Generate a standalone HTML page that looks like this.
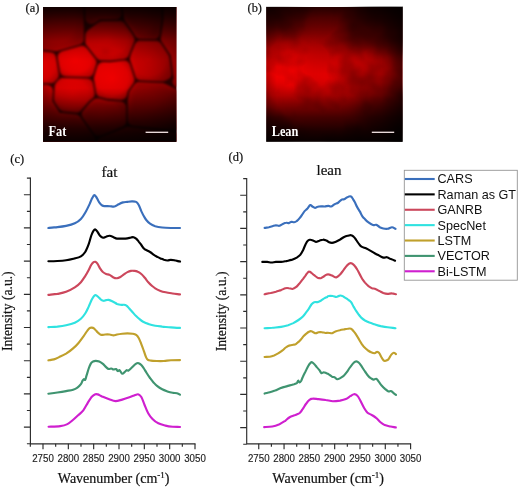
<!DOCTYPE html>
<html lang="en"><head><meta charset="utf-8"><title>CARS spectra: fat vs lean</title>
<style>
html,body{margin:0;padding:0;background:#fff;}
body{width:520px;height:488px;overflow:hidden;}
svg{display:block;}
.serif{font-family:"Liberation Serif","Times New Roman",serif;fill:#111;stroke:#111;stroke-width:0.2px;}
.sans{font-family:"Liberation Sans",Arial,sans-serif;fill:#111;}
.tick{font-family:"Liberation Sans",Arial,sans-serif;font-size:10.4px;fill:#222;stroke:#222;stroke-width:0.15px;}
.curve{fill:none;stroke-width:2.15;stroke-linejoin:round;stroke-linecap:round;}
</style></head><body>
<svg width="520" height="488" viewBox="0 0 520 488">
<rect width="520" height="488" fill="#fff"/>
<!--PHOTOS-->

<defs>
  <clipPath id="clipA"><rect x="43.1" y="7" width="133.2" height="134.85"/></clipPath>
  <clipPath id="clipB"><rect x="266.25" y="6.9" width="136.25" height="134.95"/></clipPath>
  <filter id="blurCell" x="-20%" y="-20%" width="140%" height="140%"><feGaussianBlur stdDeviation="0.9"/></filter>
  <filter id="blurBig" x="-50%" y="-50%" width="200%" height="200%"><feGaussianBlur stdDeviation="7"/></filter>
  <filter id="blurMed" x="-50%" y="-50%" width="200%" height="200%"><feGaussianBlur stdDeviation="3"/></filter>
  <radialGradient id="vigA" gradientUnits="userSpaceOnUse" cx="0" cy="0" r="1" gradientTransform="translate(88 72) scale(160 94)">
    <stop offset="0" stop-color="#000" stop-opacity="0"/>
    <stop offset="0.3" stop-color="#000" stop-opacity="0.06"/>
    <stop offset="0.55" stop-color="#000" stop-opacity="0.32"/>
    <stop offset="0.8" stop-color="#000" stop-opacity="0.68"/>
    <stop offset="1" stop-color="#000" stop-opacity="0.9"/>
  </radialGradient>
  <radialGradient id="cellG" cx="0.45" cy="0.45" r="0.62">
    <stop offset="0" stop-color="#f60000"/>
    <stop offset="0.65" stop-color="#e80000"/>
    <stop offset="1" stop-color="#b80000"/>
  </radialGradient>
  <linearGradient id="tbA" gradientUnits="userSpaceOnUse" x1="0" y1="7" x2="0" y2="142">
    <stop offset="0" stop-color="#000" stop-opacity="0.8"/>
    <stop offset="0.1" stop-color="#000" stop-opacity="0.5"/>
    <stop offset="0.25" stop-color="#000" stop-opacity="0.12"/>
    <stop offset="0.4" stop-color="#000" stop-opacity="0"/>
    <stop offset="0.6" stop-color="#000" stop-opacity="0"/>
    <stop offset="0.78" stop-color="#000" stop-opacity="0.42"/>
    <stop offset="0.9" stop-color="#000" stop-opacity="0.7"/>
    <stop offset="1" stop-color="#000" stop-opacity="0.85"/>
  </linearGradient>
  <linearGradient id="baseB" gradientUnits="userSpaceOnUse" x1="0" y1="6" x2="0" y2="142">
    <stop offset="0" stop-color="#300000"/>
    <stop offset="0.18" stop-color="#780000"/>
    <stop offset="0.36" stop-color="#c00000"/>
    <stop offset="0.5" stop-color="#d40000"/>
    <stop offset="0.66" stop-color="#a80000"/>
    <stop offset="0.82" stop-color="#480000"/>
    <stop offset="0.92" stop-color="#200000"/>
    <stop offset="1" stop-color="#0c0000"/>
  </linearGradient>
  <linearGradient id="lrB" gradientUnits="userSpaceOnUse" x1="266" y1="0" x2="402" y2="0">
    <stop offset="0" stop-color="#000" stop-opacity="0.12"/>
    <stop offset="0.08" stop-color="#000" stop-opacity="0.0"/>
    <stop offset="0.55" stop-color="#000" stop-opacity="0.08"/>
    <stop offset="0.85" stop-color="#000" stop-opacity="0.22"/>
    <stop offset="1" stop-color="#000" stop-opacity="0.55"/>
  </linearGradient>
  <radialGradient id="vigB" gradientUnits="userSpaceOnUse" cx="0" cy="0" r="1" gradientTransform="translate(328 72) scale(112 100)">
    <stop offset="0.55" stop-color="#000" stop-opacity="0"/>
    <stop offset="1" stop-color="#000" stop-opacity="0.75"/>
  </radialGradient>
  <filter id="noiseB" x="0" y="0" width="100%" height="100%">
    <feTurbulence type="fractalNoise" baseFrequency="0.03" numOctaves="3" seed="7" result="n"/>
    <feColorMatrix in="n" type="matrix" values="0 0 0 0 0  0 0 0 0 0  0 0 0 0 0  0.7 0 0 0 -0.3"/>
  </filter>
</defs>
<!-- (a) fat -->
<g clip-path="url(#clipA)">
  <rect x="43" y="7" width="134" height="136" fill="#3c0000"/>
  <g filter="url(#blurCell)" fill="url(#cellG)">
    <path d="M37.0,-5.2 35.4,-5.0 33.9,-4.4 32.6,-3.4 31.6,-2.1 31.0,-0.6 30.8,1.0 30.8,42.8 31.0,44.3 31.5,45.7 32.4,46.9 33.5,47.9 34.8,48.6 36.3,48.9 54.7,51.0 57.1,50.9 79.2,44.7 80.7,44.0 81.9,43.0 82.9,41.8 83.5,40.3 83.7,38.7 83.7,1.0 83.5,-0.6 82.9,-2.1 81.9,-3.4 80.6,-4.4 79.1,-5.0 77.5,-5.2Z"/>
    <path d="M87.7,30.5 86.4,31.9 85.6,33.6 85.3,35.4 85.3,41.6 85.5,42.9 85.9,44.2 96.6,58.0 97.9,59.2 99.5,60.0 101.2,60.3 110.5,60.6 123.9,58.9 125.4,58.5 126.8,57.7 127.9,56.7 128.7,55.4 134.0,42.1 134.5,40.4 134.4,38.7 133.9,37.0 132.0,33.5 124.9,23.4 123.9,22.3 122.7,21.5 121.3,21.0 119.9,20.8 101.0,20.9 98.6,22.1Z"/>
    <path d="M91.5,-5.2 89.9,-5.0 88.4,-4.4 87.1,-3.4 86.1,-2.1 85.5,-0.6 85.3,1.0 85.3,17.7 85.5,19.2 86.0,20.7 86.9,21.9 88.1,22.9 89.5,23.6 91.0,23.9 92.5,23.8 94.0,23.4 99.9,19.2 115.7,19.2 117.2,19.0 118.6,18.5 119.8,17.6 120.8,16.5 121.5,15.1 121.8,13.6 121.8,12.1 120.1,0.1 119.6,-1.6 118.6,-3.1 117.3,-4.2 115.7,-4.9 113.9,-5.2Z"/>
    <path d="M128.1,-5.2 126.6,-5.0 125.2,-4.5 123.9,-3.6 122.9,-2.5 122.2,-1.1 121.9,0.4 121.9,1.9 124.1,18.1 124.5,19.6 125.2,21.0 133.6,32.9 135.8,36.8 137.1,37.8 138.6,38.5 140.2,38.8 153.4,39.1 154.9,39.0 156.3,38.5 157.5,37.7 158.6,36.6 159.3,35.3 159.7,33.8 161.7,19.2 161.4,0.8 161.1,-0.7 160.5,-2.2 159.5,-3.4 158.2,-4.4 156.7,-5.0 155.2,-5.2Z"/>
    <path d="M169.2,-5.2 167.5,-5.0 166.0,-4.3 164.7,-3.3 163.8,-2.0 163.2,-0.5 163.0,1.2 163.4,18.7 160.8,37.6 160.7,39.1 161.1,40.5 161.8,41.9 170.8,55.4 173.8,78.0 173.1,79.7 172.7,81.1 172.7,82.6 173.1,84.1 173.9,85.4 174.9,86.5 176.2,87.4 180.3,89.4 181.8,89.9 183.3,90.0 184.9,89.7 186.3,89.0 187.5,88.1 188.4,86.8 189.0,85.3 189.2,83.8 189.2,1.0 189.0,-0.6 188.4,-2.1 187.4,-3.4 186.1,-4.4 184.6,-5.0 183.0,-5.2Z"/>
    <path d="M140.8,40.4 139.3,40.6 137.9,41.1 136.6,41.9 135.6,43.0 134.9,44.2 131.0,53.7 130.1,57.4 130.0,58.9 130.3,60.5 135.3,76.1 135.9,77.5 136.8,78.7 138.0,79.6 139.4,80.2 140.9,80.4 162.3,81.4 163.8,81.3 165.2,80.8 169.4,78.6 170.4,77.5 171.2,76.1 171.5,74.6 171.5,73.1 169.4,57.3 169.1,55.9 168.4,54.7 161.0,43.6 160.0,42.4 158.8,41.6 157.4,41.0 156.0,40.8Z"/>
    <path d="M62.2,51.1 60.8,51.7 59.6,52.6 58.7,53.7 58.0,55.1 57.7,56.5 57.8,58.0 59.9,71.2 60.4,72.8 61.3,74.2 62.6,75.4 64.1,76.1 65.8,76.4 87.6,77.0 89.2,76.9 90.8,76.3 92.1,75.3 93.1,74.1 93.8,72.6 96.2,64.3 96.5,62.8 96.3,61.3 95.9,59.9 95.1,58.7 86.8,48.1 85.4,46.9 83.8,46.1 82.0,45.8 80.2,46.0Z"/>
    <path d="M37.7,50.7 36.0,50.7 34.3,51.3 32.9,52.2 31.8,53.6 31.0,55.1 30.8,56.9 30.8,77.0 31.0,78.6 31.6,80.1 32.6,81.4 33.9,82.4 35.4,83.0 37.0,83.2 50.8,83.2 52.5,82.9 54.2,82.2 55.5,81.0 57.3,78.9 58.2,77.4 58.7,75.7 58.7,73.9 56.0,57.4 55.6,55.8 54.8,54.5 53.6,53.3 52.2,52.6 50.6,52.2Z"/>
    <path d="M103.4,62.0 101.8,62.2 100.3,62.7 98.9,63.7 97.9,65.0 97.2,66.5 94.2,76.7 94.0,78.1 94.0,79.4 96.1,92.3 96.6,94.0 97.6,95.5 99.0,96.7 100.7,97.3 107.5,99.1 120.8,99.9 122.3,99.8 123.7,99.3 125.0,98.5 126.0,97.4 126.8,96.1 127.9,90.9 133.3,83.4 134.0,82.1 134.4,80.7 134.4,79.3 134.2,77.9 130.0,64.8 129.3,63.3 128.1,62.0 126.7,61.1 125.0,60.6 123.3,60.6 110.0,62.3Z"/>
    <path d="M63.3,77.9 61.5,78.1 59.8,78.9 58.4,80.1 56.1,82.7 55.1,84.4 54.7,86.4 53.9,98.8 54.1,100.7 54.9,102.5 58.9,108.7 60.1,110.1 61.7,111.1 63.4,111.6 75.5,112.8 77.0,112.8 78.4,112.4 79.7,111.7 80.8,110.8 89.3,101.1 93.3,97.7 94.2,96.3 94.6,94.6 94.6,93.0 93.1,83.9 92.6,82.2 91.7,80.8 90.4,79.6 88.9,78.9 87.2,78.6Z"/>
    <path d="M99.0,98.6 97.2,98.4 95.4,98.8 93.8,99.6 90.1,102.6 83.3,110.4 82.3,111.8 81.8,113.3 81.7,115.0 82.1,116.6 82.9,118.1 93.8,133.5 94.9,134.7 96.3,135.6 97.9,136.0 99.6,136.1 101.2,135.7 122.3,127.0 123.6,126.3 124.7,125.3 125.5,124.1 126.0,122.7 126.2,121.3 126.2,107.6 126.0,106.1 125.4,104.6 124.5,103.4 123.3,102.4 121.9,101.7 120.3,101.4 107.9,100.8Z"/>
    <path d="M134.4,84.5 129.5,91.6 129.1,93.0 127.9,100.6 127.8,119.7 128.0,121.2 128.5,122.6 129.4,123.9 130.5,124.9 131.9,125.6 133.3,125.9 182.3,131.3 184.0,131.3 185.7,130.8 187.1,129.8 188.3,128.5 189.0,126.9 189.2,125.2 189.2,99.4 189.0,97.7 188.3,96.1 187.2,94.8 185.7,93.8 165.0,83.7 162.5,83.0 139.7,82.0 138.2,82.1 136.8,82.6 135.5,83.4Z"/>
    <path d="M37.0,84.8 35.4,85.0 33.9,85.6 32.6,86.6 31.6,87.9 31.0,89.4 30.8,91.0 30.8,149.0 31.0,150.6 31.6,152.1 32.6,153.4 33.9,154.4 35.4,155.0 37.0,155.2 89.0,155.2 90.6,155.0 92.1,154.4 93.4,153.4 94.4,152.1 95.0,150.6 95.2,149.0 95.2,140.2 94.9,138.3 94.1,136.6 80.2,117.0 79.0,115.8 77.5,114.9 75.8,114.5 59.5,112.7 52.3,101.3 52.8,91.4 52.6,89.7 52.1,88.1 51.1,86.7 49.8,85.7 48.2,85.0 46.6,84.8Z"/>
    <path d="M100.7,137.6 99.4,138.3 98.3,139.3 97.5,140.5 97.0,141.9 96.8,149.0 97.0,150.6 97.6,152.1 98.6,153.4 99.9,154.4 101.4,155.0 103.0,155.2 183.0,155.2 184.6,155.0 186.1,154.4 187.4,153.4 188.4,152.1 189.0,150.6 189.2,149.0 189.2,139.3 189.0,137.8 188.5,136.4 187.6,135.1 186.5,134.1 185.1,133.4 183.7,133.1 128.7,127.0 127.1,127.0 125.7,127.4Z"/>
  </g>
  <g filter="url(#blurMed)" fill="#000">
    <path d="M37.0,-5.2 35.4,-5.0 33.9,-4.4 32.6,-3.4 31.6,-2.1 31.0,-0.6 30.8,1.0 30.8,42.8 31.0,44.3 31.5,45.7 32.4,46.9 33.5,47.9 34.8,48.6 36.3,48.9 54.7,51.0 57.1,50.9 79.2,44.7 80.7,44.0 81.9,43.0 82.9,41.8 83.5,40.3 83.7,38.7 83.7,1.0 83.5,-0.6 82.9,-2.1 81.9,-3.4 80.6,-4.4 79.1,-5.0 77.5,-5.2Z" opacity="0.2"/>
    <path d="M87.7,30.5 86.4,31.9 85.6,33.6 85.3,35.4 85.3,41.6 85.5,42.9 85.9,44.2 96.6,58.0 97.9,59.2 99.5,60.0 101.2,60.3 110.5,60.6 123.9,58.9 125.4,58.5 126.8,57.7 127.9,56.7 128.7,55.4 134.0,42.1 134.5,40.4 134.4,38.7 133.9,37.0 132.0,33.5 124.9,23.4 123.9,22.3 122.7,21.5 121.3,21.0 119.9,20.8 101.0,20.9 98.6,22.1Z" opacity="0.06"/>
    <path d="M91.5,-5.2 89.9,-5.0 88.4,-4.4 87.1,-3.4 86.1,-2.1 85.5,-0.6 85.3,1.0 85.3,17.7 85.5,19.2 86.0,20.7 86.9,21.9 88.1,22.9 89.5,23.6 91.0,23.9 92.5,23.8 94.0,23.4 99.9,19.2 115.7,19.2 117.2,19.0 118.6,18.5 119.8,17.6 120.8,16.5 121.5,15.1 121.8,13.6 121.8,12.1 120.1,0.1 119.6,-1.6 118.6,-3.1 117.3,-4.2 115.7,-4.9 113.9,-5.2Z" opacity="0.3"/>
    <path d="M128.1,-5.2 126.6,-5.0 125.2,-4.5 123.9,-3.6 122.9,-2.5 122.2,-1.1 121.9,0.4 121.9,1.9 124.1,18.1 124.5,19.6 125.2,21.0 133.6,32.9 135.8,36.8 137.1,37.8 138.6,38.5 140.2,38.8 153.4,39.1 154.9,39.0 156.3,38.5 157.5,37.7 158.6,36.6 159.3,35.3 159.7,33.8 161.7,19.2 161.4,0.8 161.1,-0.7 160.5,-2.2 159.5,-3.4 158.2,-4.4 156.7,-5.0 155.2,-5.2Z" opacity="0.32"/>
    <path d="M169.2,-5.2 167.5,-5.0 166.0,-4.3 164.7,-3.3 163.8,-2.0 163.2,-0.5 163.0,1.2 163.4,18.7 160.8,37.6 160.7,39.1 161.1,40.5 161.8,41.9 170.8,55.4 173.8,78.0 173.1,79.7 172.7,81.1 172.7,82.6 173.1,84.1 173.9,85.4 174.9,86.5 176.2,87.4 180.3,89.4 181.8,89.9 183.3,90.0 184.9,89.7 186.3,89.0 187.5,88.1 188.4,86.8 189.0,85.3 189.2,83.8 189.2,1.0 189.0,-0.6 188.4,-2.1 187.4,-3.4 186.1,-4.4 184.6,-5.0 183.0,-5.2Z" opacity="0.1"/>
    <path d="M140.8,40.4 139.3,40.6 137.9,41.1 136.6,41.9 135.6,43.0 134.9,44.2 131.0,53.7 130.1,57.4 130.0,58.9 130.3,60.5 135.3,76.1 135.9,77.5 136.8,78.7 138.0,79.6 139.4,80.2 140.9,80.4 162.3,81.4 163.8,81.3 165.2,80.8 169.4,78.6 170.4,77.5 171.2,76.1 171.5,74.6 171.5,73.1 169.4,57.3 169.1,55.9 168.4,54.7 161.0,43.6 160.0,42.4 158.8,41.6 157.4,41.0 156.0,40.8Z" opacity="0.1"/>
    <path d="M37.7,50.7 36.0,50.7 34.3,51.3 32.9,52.2 31.8,53.6 31.0,55.1 30.8,56.9 30.8,77.0 31.0,78.6 31.6,80.1 32.6,81.4 33.9,82.4 35.4,83.0 37.0,83.2 50.8,83.2 52.5,82.9 54.2,82.2 55.5,81.0 57.3,78.9 58.2,77.4 58.7,75.7 58.7,73.9 56.0,57.4 55.6,55.8 54.8,54.5 53.6,53.3 52.2,52.6 50.6,52.2Z" opacity="0.05"/>
    <path d="M63.3,77.9 61.5,78.1 59.8,78.9 58.4,80.1 56.1,82.7 55.1,84.4 54.7,86.4 53.9,98.8 54.1,100.7 54.9,102.5 58.9,108.7 60.1,110.1 61.7,111.1 63.4,111.6 75.5,112.8 77.0,112.8 78.4,112.4 79.7,111.7 80.8,110.8 89.3,101.1 93.3,97.7 94.2,96.3 94.6,94.6 94.6,93.0 93.1,83.9 92.6,82.2 91.7,80.8 90.4,79.6 88.9,78.9 87.2,78.6Z" opacity="0.05"/>
    <path d="M99.0,98.6 97.2,98.4 95.4,98.8 93.8,99.6 90.1,102.6 83.3,110.4 82.3,111.8 81.8,113.3 81.7,115.0 82.1,116.6 82.9,118.1 93.8,133.5 94.9,134.7 96.3,135.6 97.9,136.0 99.6,136.1 101.2,135.7 122.3,127.0 123.6,126.3 124.7,125.3 125.5,124.1 126.0,122.7 126.2,121.3 126.2,107.6 126.0,106.1 125.4,104.6 124.5,103.4 123.3,102.4 121.9,101.7 120.3,101.4 107.9,100.8Z" opacity="0.22"/>
    <path d="M134.4,84.5 129.5,91.6 129.1,93.0 127.9,100.6 127.8,119.7 128.0,121.2 128.5,122.6 129.4,123.9 130.5,124.9 131.9,125.6 133.3,125.9 182.3,131.3 184.0,131.3 185.7,130.8 187.1,129.8 188.3,128.5 189.0,126.9 189.2,125.2 189.2,99.4 189.0,97.7 188.3,96.1 187.2,94.8 185.7,93.8 165.0,83.7 162.5,83.0 139.7,82.0 138.2,82.1 136.8,82.6 135.5,83.4Z" opacity="0.3"/>
    <path d="M37.0,84.8 35.4,85.0 33.9,85.6 32.6,86.6 31.6,87.9 31.0,89.4 30.8,91.0 30.8,149.0 31.0,150.6 31.6,152.1 32.6,153.4 33.9,154.4 35.4,155.0 37.0,155.2 89.0,155.2 90.6,155.0 92.1,154.4 93.4,153.4 94.4,152.1 95.0,150.6 95.2,149.0 95.2,140.2 94.9,138.3 94.1,136.6 80.2,117.0 79.0,115.8 77.5,114.9 75.8,114.5 59.5,112.7 52.3,101.3 52.8,91.4 52.6,89.7 52.1,88.1 51.1,86.7 49.8,85.7 48.2,85.0 46.6,84.8Z" opacity="0.2"/>
    <path d="M100.7,137.6 99.4,138.3 98.3,139.3 97.5,140.5 97.0,141.9 96.8,149.0 97.0,150.6 97.6,152.1 98.6,153.4 99.9,154.4 101.4,155.0 103.0,155.2 183.0,155.2 184.6,155.0 186.1,154.4 187.4,153.4 188.4,152.1 189.0,150.6 189.2,149.0 189.2,139.3 189.0,137.8 188.5,136.4 187.6,135.1 186.5,134.1 185.1,133.4 183.7,133.1 128.7,127.0 127.1,127.0 125.7,127.4Z" opacity="0.3"/>
    <ellipse cx="105.5" cy="52" rx="2.2" ry="1.6" opacity="0.5"/>
  </g>
  <rect x="43" y="7" width="134" height="136" fill="url(#vigA)"/>
  <rect x="43" y="7" width="134" height="136" fill="url(#tbA)"/>
</g>
<text x="48.5" y="136.1" textLength="17.9" lengthAdjust="spacingAndGlyphs" class="serif" font-size="13.6" font-weight="bold" style="fill:#fff;stroke:none">Fat</text>
<rect x="145.6" y="131.65" width="22.6" height="1.3" fill="#f4e4e4"/>
<!-- (b) lean -->
<g clip-path="url(#clipB)">
  <rect x="266" y="6" width="137" height="137" fill="url(#baseB)"/>
  <g filter="url(#blurBig)">
    <ellipse cx="288" cy="70" rx="16" ry="22" fill="#ff0000" opacity="0.7"/>
    <ellipse cx="324" cy="76" rx="26" ry="15" fill="#f40000" opacity="0.65"/>
    <ellipse cx="358" cy="63" rx="19" ry="13" fill="#ec0000" opacity="0.6"/>
    <ellipse cx="340" cy="50" rx="20" ry="9" fill="#d80000" opacity="0.4"/>
    <ellipse cx="306" cy="50" rx="18" ry="9" fill="#d80000" opacity="0.4"/>
  </g>
  <g filter="url(#blurMed)">
    <ellipse cx="291" cy="70" rx="4" ry="19" fill="#ff0000" opacity="0.55"/>
    <ellipse cx="276" cy="75" rx="4" ry="12" fill="#ff0000" opacity="0.4"/>
    <ellipse cx="327" cy="77" rx="9" ry="6" fill="#ff0000" opacity="0.35"/>
  </g>
  <g filter="url(#blurBig)" fill="#000">
    <ellipse cx="388" cy="26" rx="42" ry="26" opacity="0.45"/>
    <ellipse cx="392" cy="112" rx="36" ry="22" opacity="0.35"/>
    <ellipse cx="275" cy="22" rx="30" ry="16" opacity="0.3"/>
  </g>
  <rect x="266" y="6" width="137" height="137" fill="url(#lrB)"/>
  <rect x="266" y="6" width="137" height="137" fill="url(#vigB)"/>
  <rect x="266" y="6" width="137" height="137" filter="url(#noiseB)" fill="#000"/>
</g>
<text x="271.7" y="136.1" textLength="26.7" lengthAdjust="spacingAndGlyphs" class="serif" font-size="13.6" font-weight="bold" style="fill:#fff;stroke:none">Lean</text>
<rect x="371.8" y="131.65" width="22.4" height="1.3" fill="#f4e4e4"/>


<!-- panel labels -->
<text x="25.6" y="12.3" class="serif" font-size="12.4">(a)</text>
<text x="247.5" y="11.6" class="serif" font-size="12.4">(b)</text>
<text x="10.3" y="162.6" class="serif" font-size="12.4">(c)</text>
<text x="228.6" y="160.9" class="serif" font-size="12.4">(d)</text>
<text x="109.5" y="177" class="serif" font-size="15" text-anchor="middle">fat</text>
<text x="329" y="175" class="serif" font-size="15" text-anchor="middle">lean</text>

<path d="M30.4 177.6 V443.8 H195.5" fill="none" stroke="#2c2c2c" stroke-width="1.15"/>
<path d="M26.90 178.10 H30.4 M23.90 194.70 H30.4 M26.90 211.30 H30.4 M23.90 227.90 H30.4 M26.90 244.50 H30.4 M23.90 261.10 H30.4 M26.90 277.70 H30.4 M23.90 294.30 H30.4 M26.90 310.90 H30.4 M23.90 327.50 H30.4 M26.90 344.10 H30.4 M23.90 360.70 H30.4 M26.90 377.30 H30.4 M23.90 393.90 H30.4 M26.90 410.50 H30.4 M23.90 427.10 H30.4 M26.90 443.70 H30.4 M30.33 443.8 V446.8 M43.00 443.8 V449.3 M55.67 443.8 V446.8 M68.33 443.8 V449.3 M81.00 443.8 V446.8 M93.67 443.8 V449.3 M106.33 443.8 V446.8 M119.00 443.8 V449.3 M131.67 443.8 V446.8 M144.33 443.8 V449.3 M157.00 443.8 V446.8 M169.67 443.8 V449.3 M182.33 443.8 V446.8 M195.00 443.8 V449.3" fill="none" stroke="#2c2c2c" stroke-width="1.15"/>
<text x="32.20" y="462.40000000000003" textLength="21.6" lengthAdjust="spacingAndGlyphs" class="tick">2750</text>
<text x="57.53" y="462.40000000000003" textLength="21.6" lengthAdjust="spacingAndGlyphs" class="tick">2800</text>
<text x="82.87" y="462.40000000000003" textLength="21.6" lengthAdjust="spacingAndGlyphs" class="tick">2850</text>
<text x="108.20" y="462.40000000000003" textLength="21.6" lengthAdjust="spacingAndGlyphs" class="tick">2900</text>
<text x="133.53" y="462.40000000000003" textLength="21.6" lengthAdjust="spacingAndGlyphs" class="tick">2950</text>
<text x="158.87" y="462.40000000000003" textLength="21.6" lengthAdjust="spacingAndGlyphs" class="tick">3000</text>
<text x="184.20" y="462.40000000000003" textLength="21.6" lengthAdjust="spacingAndGlyphs" class="tick">3050</text>
<path d="M246.7 178.1 V443.8 H411.1" fill="none" stroke="#2c2c2c" stroke-width="1.15"/>
<path d="M243.20 178.60 H246.7 M240.20 195.20 H246.7 M243.20 211.80 H246.7 M240.20 228.40 H246.7 M243.20 245.00 H246.7 M240.20 261.60 H246.7 M243.20 278.20 H246.7 M240.20 294.80 H246.7 M243.20 311.40 H246.7 M240.20 328.00 H246.7 M243.20 344.60 H246.7 M240.20 361.20 H246.7 M243.20 377.80 H246.7 M240.20 394.40 H246.7 M243.20 411.00 H246.7 M240.20 427.60 H246.7 M243.20 444.20 H246.7 M258.75 443.8 V449.3 M271.40 443.8 V446.8 M284.06 443.8 V449.3 M296.71 443.8 V446.8 M309.37 443.8 V449.3 M322.02 443.8 V446.8 M334.68 443.8 V449.3 M347.33 443.8 V446.8 M359.98 443.8 V449.3 M372.64 443.8 V446.8 M385.29 443.8 V449.3 M397.95 443.8 V446.8 M410.60 443.8 V449.3" fill="none" stroke="#2c2c2c" stroke-width="1.15"/>
<text x="247.95" y="462.40000000000003" textLength="21.6" lengthAdjust="spacingAndGlyphs" class="tick">2750</text>
<text x="273.26" y="462.40000000000003" textLength="21.6" lengthAdjust="spacingAndGlyphs" class="tick">2800</text>
<text x="298.57" y="462.40000000000003" textLength="21.6" lengthAdjust="spacingAndGlyphs" class="tick">2850</text>
<text x="323.88" y="462.40000000000003" textLength="21.6" lengthAdjust="spacingAndGlyphs" class="tick">2900</text>
<text x="349.18" y="462.40000000000003" textLength="21.6" lengthAdjust="spacingAndGlyphs" class="tick">2950</text>
<text x="374.49" y="462.40000000000003" textLength="21.6" lengthAdjust="spacingAndGlyphs" class="tick">3000</text>
<text x="399.80" y="462.40000000000003" textLength="21.6" lengthAdjust="spacingAndGlyphs" class="tick">3050</text>
<text x="57.8" y="482.9" class="serif" font-size="14">Wavenumber (cm<tspan font-size="9" dy="-5">-1</tspan><tspan dy="5">)</tspan></text>
<text x="272.3" y="482.9" class="serif" font-size="14">Wavenumber (cm<tspan font-size="9" dy="-5">-1</tspan><tspan dy="5">)</tspan></text>
<text transform="translate(11.6,311.2) rotate(-90)" text-anchor="middle" class="serif" font-size="13.6">Intensity (a.u.)</text>
<text transform="translate(225.9,311.4) rotate(-90)" text-anchor="middle" class="serif" font-size="13.6">Intensity (a.u.)</text>
<path class="curve" stroke="#3a6fbc" d="M48.4 228.0 C49.9 227.8 54.4 227.4 57.4 227.1 C60.4 226.8 63.2 226.5 66.1 225.9 C69.0 225.3 72.3 224.5 74.8 223.3 C77.3 222.1 79.2 220.7 80.9 218.9 C82.6 217.2 83.8 215.3 85.2 212.8 C86.7 210.3 88.4 206.6 89.6 204.1 C90.8 201.6 91.4 199.6 92.2 198.1 C93.0 196.6 93.6 195.2 94.3 195.1 C95.0 195.0 95.7 196.3 96.5 197.5 C97.4 198.7 98.3 201.1 99.2 202.4 C100.1 203.7 101.2 204.9 102.2 205.5 C103.2 206.1 104.0 206.0 105.2 206.1 C106.5 206.2 108.5 206.1 110.0 206.2 C111.5 206.3 113.0 206.8 114.5 206.5 C116.0 206.2 117.3 205.0 118.7 204.3 C120.1 203.6 121.6 202.8 123.0 202.4 C124.5 202.0 126.0 202.1 127.4 201.9 C128.8 201.7 130.3 201.4 131.8 201.4 C133.2 201.4 134.9 201.3 136.1 201.9 C137.3 202.5 137.8 203.5 138.7 205.0 C139.6 206.5 140.4 209.2 141.3 211.1 C142.2 213.0 143.0 214.8 143.9 216.3 C144.8 217.8 145.5 219.1 146.5 220.3 C147.5 221.5 148.6 222.6 150.0 223.6 C151.4 224.6 153.2 225.5 155.2 226.2 C157.2 226.8 159.6 227.2 162.2 227.5 C164.8 227.8 167.9 227.9 170.9 228.0 C173.9 228.1 178.5 228.0 180.0 228.0"/>
<path class="curve" stroke="#000000" d="M48.4 261.2 C49.9 261.2 54.4 261.2 57.4 261.0 C60.4 260.8 63.2 260.6 66.1 260.2 C69.0 259.8 72.3 259.0 74.8 258.4 C77.3 257.8 79.2 257.4 80.9 256.3 C82.6 255.2 83.9 254.0 85.2 252.0 C86.5 250.0 87.7 246.9 88.7 244.2 C89.7 241.4 90.5 237.8 91.3 235.5 C92.1 233.2 92.9 231.6 93.6 230.6 C94.3 229.6 94.7 229.2 95.3 229.4 C95.9 229.6 96.6 230.5 97.4 231.6 C98.2 232.7 99.1 234.8 100.0 235.8 C100.9 236.8 102.0 237.5 103.0 237.7 C104.0 237.8 105.0 237.0 106.1 236.7 C107.2 236.4 108.4 235.7 109.6 235.8 C110.8 235.9 112.3 236.7 113.5 237.2 C114.7 237.7 115.5 238.4 117.0 238.6 C118.5 238.8 120.5 238.6 122.2 238.6 C123.9 238.6 126.0 238.6 127.4 238.4 C128.8 238.2 129.9 237.7 130.9 237.5 C131.9 237.3 132.6 237.0 133.5 237.2 C134.4 237.4 135.2 237.9 136.1 238.6 C137.0 239.3 137.8 240.5 138.7 241.6 C139.6 242.6 140.4 243.8 141.3 245.0 C142.2 246.2 143.0 247.6 143.9 248.5 C144.8 249.4 145.5 249.7 146.5 250.2 C147.5 250.8 148.8 251.3 150.0 252.0 C151.2 252.7 152.3 253.8 153.5 254.6 C154.7 255.4 155.8 256.1 157.0 256.7 C158.2 257.3 159.3 257.9 160.5 258.4 C161.7 258.9 162.8 259.4 163.9 259.8 C165.1 260.2 166.2 260.5 167.4 260.5 C168.6 260.5 169.7 259.9 170.9 259.8 C172.1 259.8 173.4 260.0 174.4 260.2 C175.4 260.4 176.1 260.7 177.0 260.9 C177.9 261.1 179.5 261.4 180.0 261.6"/>
<path class="curve" stroke="#cc475c" d="M48.4 294.9 C49.9 294.7 54.4 294.4 57.4 293.9 C60.4 293.3 63.2 292.9 66.1 291.8 C69.0 290.7 72.3 289.0 74.8 287.4 C77.3 285.8 79.2 284.1 80.9 282.2 C82.6 280.3 83.9 278.1 85.2 276.1 C86.5 274.1 87.7 271.9 88.7 270.0 C89.7 268.1 90.5 266.1 91.3 264.8 C92.1 263.5 92.9 262.7 93.6 262.2 C94.3 261.7 94.7 261.6 95.3 261.8 C95.9 262.0 96.6 262.5 97.4 263.6 C98.2 264.7 99.1 266.9 100.0 268.3 C100.9 269.7 101.6 270.8 102.6 271.8 C103.6 272.7 104.9 273.5 106.1 274.0 C107.3 274.5 108.4 274.3 109.6 274.9 C110.8 275.5 112.3 276.9 113.5 277.5 C114.7 278.1 115.8 278.3 117.0 278.2 C118.2 278.1 119.2 277.6 120.4 277.0 C121.6 276.4 122.7 275.2 123.9 274.4 C125.1 273.6 126.2 272.7 127.4 272.1 C128.6 271.5 129.7 271.1 130.9 270.9 C132.1 270.7 133.2 270.8 134.4 270.9 C135.6 271.0 136.7 271.2 137.8 271.8 C139.0 272.3 140.1 273.0 141.3 274.0 C142.5 275.0 143.6 276.4 144.8 277.8 C146.0 279.2 147.1 280.9 148.3 282.2 C149.5 283.5 150.7 284.7 151.8 285.7 C153.0 286.7 153.8 287.4 155.2 288.3 C156.6 289.2 158.8 290.2 160.5 290.9 C162.2 291.6 163.7 291.9 165.7 292.3 C167.7 292.7 170.2 293.1 172.6 293.5 C175.0 293.9 178.8 294.2 180.0 294.4"/>
<path class="curve" stroke="#2fe2e0" d="M48.4 327.1 C49.9 327.0 54.4 326.9 57.4 326.6 C60.4 326.2 63.2 325.8 66.1 325.2 C69.0 324.6 72.3 323.8 74.8 322.7 C77.3 321.6 79.2 320.2 80.9 318.7 C82.6 317.2 83.9 315.5 85.2 313.5 C86.5 311.5 87.6 308.9 88.7 306.6 C89.8 304.2 90.9 301.4 91.8 299.6 C92.8 297.8 93.6 296.5 94.3 295.8 C95.0 295.1 95.3 295.0 96.0 295.2 C96.7 295.4 97.5 296.3 98.3 297.0 C99.1 297.7 100.0 299.0 100.9 299.6 C101.8 300.2 102.6 300.7 103.5 300.8 C104.4 300.9 105.2 300.2 106.1 300.1 C107.0 300.0 107.7 299.7 108.7 299.9 C109.7 300.1 111.2 300.8 112.2 301.3 C113.2 301.8 114.2 302.3 115.0 302.7 C115.8 303.1 116.1 303.5 117.0 303.9 C117.9 304.2 119.2 304.6 120.4 304.8 C121.6 305.0 122.9 304.7 123.9 304.8 C124.9 304.9 125.6 305.1 126.5 305.7 C127.4 306.3 128.1 307.2 129.1 308.3 C130.1 309.4 131.4 311.0 132.6 312.3 C133.8 313.6 134.9 314.9 136.1 316.1 C137.3 317.3 138.4 318.3 139.6 319.2 C140.8 320.2 141.6 320.9 143.1 321.7 C144.6 322.5 146.3 323.3 148.3 323.9 C150.3 324.6 152.9 325.3 155.2 325.7 C157.5 326.1 159.6 326.3 162.2 326.6 C164.8 326.8 167.9 327.2 170.9 327.4 C173.9 327.6 178.5 327.9 180.0 327.9"/>
<path class="curve" stroke="#c0a02c" d="M48.4 360.3 C49.3 360.1 52.1 359.9 53.9 359.4 C55.7 358.9 57.1 358.1 59.1 357.1 C61.1 356.2 63.8 355.1 66.1 353.7 C68.4 352.2 71.1 350.2 73.1 348.4 C75.1 346.7 76.6 345.2 78.3 343.2 C80.0 341.2 82.0 338.3 83.5 336.3 C85.0 334.3 86.0 332.4 87.0 331.1 C88.0 329.7 88.8 328.7 89.6 328.1 C90.4 327.5 91.0 327.6 91.7 327.6 C92.4 327.7 93.1 327.8 93.9 328.4 C94.7 329.0 95.7 330.2 96.5 331.1 C97.4 331.9 98.3 333.1 99.2 333.7 C100.1 334.3 100.8 334.8 101.8 334.9 C102.8 335.0 104.0 334.6 105.2 334.5 C106.5 334.4 108.2 334.4 109.6 334.5 C111.0 334.6 112.3 335.4 113.5 335.4 C114.7 335.4 115.5 334.8 117.0 334.5 C118.5 334.2 120.5 333.9 122.2 333.7 C123.9 333.5 125.7 333.3 127.4 333.3 C129.1 333.3 131.2 333.4 132.6 333.7 C134.0 334.0 135.1 334.2 136.1 334.9 C137.1 335.6 137.8 336.5 138.7 338.0 C139.6 339.5 140.4 341.9 141.3 344.1 C142.2 346.3 143.1 348.9 143.9 351.1 C144.7 353.3 145.3 355.7 146.0 357.1 C146.7 358.6 147.1 359.2 147.9 359.8 C148.7 360.4 149.4 360.4 150.9 360.6 C152.4 360.8 154.8 360.9 157.0 361.0 C159.2 361.1 161.6 361.1 163.9 361.0 C166.2 360.9 168.2 360.4 170.9 360.3 C173.6 360.2 178.5 360.1 180.0 360.1"/>
<path class="curve" stroke="#3f9470" d="M48.4 393.7 C49.9 393.5 54.4 392.9 57.4 392.5 C60.4 392.1 63.5 391.6 66.1 391.1 C68.7 390.6 71.2 390.3 73.1 389.7 C75.0 389.1 76.1 388.5 77.4 387.6 C78.7 386.7 80.0 385.3 80.9 384.1 C81.8 382.9 82.1 381.4 82.6 380.6 C83.1 379.8 83.4 379.4 83.8 379.2 C84.3 379.1 84.7 380.4 85.2 379.8 C85.7 379.2 86.0 377.3 86.6 375.4 C87.2 373.5 88.0 370.5 88.7 368.5 C89.4 366.5 90.1 364.8 90.8 363.6 C91.5 362.4 92.3 362.0 93.1 361.5 C93.9 361.0 94.7 360.8 95.7 360.8 C96.7 360.8 98.1 361.0 99.2 361.5 C100.3 362.0 101.4 362.7 102.6 363.6 C103.8 364.5 105.1 366.2 106.1 367.1 C107.1 368.0 107.8 368.8 108.7 369.0 C109.6 369.2 110.5 368.4 111.3 368.5 C112.1 368.6 112.7 369.4 113.5 369.5 C114.3 369.6 115.4 368.7 116.1 369.0 C116.8 369.3 117.2 370.9 117.8 371.1 C118.4 371.3 118.9 369.8 119.6 370.2 C120.3 370.6 121.3 373.4 122.2 373.7 C123.1 374.0 124.1 372.5 124.8 371.9 C125.5 371.3 125.9 370.4 126.5 370.2 C127.1 370.0 127.6 371.0 128.3 370.7 C129.0 370.4 129.9 369.4 130.9 368.5 C131.9 367.6 133.4 365.9 134.4 365.0 C135.4 364.1 136.3 363.5 137.0 363.2 C137.7 362.9 138.0 362.9 138.7 363.2 C139.4 363.5 140.4 364.1 141.3 365.0 C142.2 365.9 143.0 367.2 143.9 368.5 C144.8 369.8 145.5 371.2 146.5 372.8 C147.5 374.4 148.8 376.4 150.0 378.0 C151.2 379.6 152.3 381.1 153.5 382.4 C154.7 383.7 155.6 384.8 157.0 385.9 C158.4 387.0 160.5 388.4 162.2 389.3 C163.9 390.2 165.7 390.8 167.4 391.4 C169.1 392.0 171.0 392.5 172.6 392.8 C174.2 393.1 175.8 392.9 177.0 393.2 C178.2 393.5 179.5 394.3 180.0 394.6"/>
<path class="curve" stroke="#cf1fcf" d="M48.6 426.7 C50.6 426.6 57.1 426.6 60.2 426.1 C63.3 425.7 65.2 425.2 67.4 424.1 C69.6 423.0 71.3 421.4 73.2 419.8 C75.1 418.2 77.2 416.2 78.9 414.6 C80.6 413.0 81.8 412.2 83.3 410.3 C84.8 408.4 86.3 405.3 87.6 403.1 C88.9 400.9 90.1 398.8 91.3 397.3 C92.5 395.9 93.7 394.9 94.8 394.4 C95.9 393.9 96.5 394.1 97.7 394.4 C98.9 394.7 100.1 395.6 102.0 396.4 C103.9 397.2 106.9 398.5 109.2 399.3 C111.5 400.1 113.4 401.0 115.6 401.1 C117.8 401.1 119.9 400.2 122.2 399.6 C124.5 399.0 127.2 398.1 129.4 397.3 C131.6 396.5 133.7 395.5 135.2 395.0 C136.7 394.5 137.5 394.0 138.6 394.4 C139.7 394.8 140.5 395.6 141.5 397.3 C142.5 399.0 143.3 401.9 144.4 404.5 C145.5 407.1 146.8 410.8 148.2 413.2 C149.5 415.6 150.8 417.2 152.5 418.9 C154.2 420.6 156.1 422.2 158.3 423.3 C160.5 424.4 163.1 425.0 165.5 425.6 C167.9 426.2 170.3 426.5 172.7 426.7 C175.1 426.9 178.8 426.9 180.0 427.0"/>
<path class="curve" stroke="#3a6fbc" d="M264.6 227.9 C265.3 227.8 267.6 227.4 268.9 227.2 C270.2 226.9 271.2 226.6 272.4 226.2 C273.6 225.9 274.7 225.4 275.9 225.3 C277.1 225.3 278.2 226.0 279.4 225.8 C280.5 225.5 281.6 224.4 282.8 223.9 C284.0 223.4 285.3 222.9 286.3 222.8 C287.3 222.6 288.0 223.2 288.9 223.1 C289.8 222.9 290.6 222.0 291.5 221.8 C292.4 221.7 293.3 222.4 294.1 222.2 C295.0 222.1 295.9 221.7 296.8 221.0 C297.7 220.4 298.5 219.5 299.4 218.4 C300.3 217.4 301.1 216.2 302.0 214.9 C302.9 213.7 303.7 212.1 304.6 211.1 C305.5 210.1 306.2 209.9 307.2 208.8 C308.1 207.8 309.4 205.4 310.3 205.0 C311.2 204.7 311.6 206.1 312.4 206.5 C313.2 207.0 314.1 207.9 315.0 207.9 C315.9 208.0 316.6 207.0 317.6 206.8 C318.6 206.5 319.9 206.3 321.1 206.2 C322.3 206.2 323.4 206.6 324.6 206.5 C325.8 206.5 327.4 205.8 328.5 205.8 C329.6 205.8 330.1 206.8 331.1 206.5 C332.1 206.3 333.4 204.8 334.6 204.2 C335.8 203.5 336.9 203.5 338.1 202.8 C339.2 202.0 340.5 200.2 341.5 199.7 C342.5 199.1 343.2 199.6 344.1 199.2 C345.0 198.9 345.7 198.1 346.8 197.5 C347.8 197.0 349.3 196.2 350.2 196.2 C351.1 196.2 351.3 196.6 352.0 197.5 C352.7 198.5 353.7 200.3 354.6 201.8 C355.5 203.4 356.3 205.5 357.2 207.1 C358.1 208.7 358.9 209.9 359.8 211.4 C360.7 213.0 361.5 215.0 362.4 216.3 C363.3 217.7 364.0 218.2 365.0 219.2 C366.0 220.3 367.2 221.5 368.5 222.4 C369.8 223.4 371.6 224.6 372.9 225.0 C374.2 225.4 375.1 224.5 376.3 224.8 C377.5 225.2 378.6 226.5 379.8 227.2 C381.0 227.8 382.0 228.2 383.3 228.5 C384.6 228.8 386.2 229.1 387.6 228.8 C389.1 228.6 390.7 227.2 392.0 227.2 C393.3 227.2 394.9 228.6 395.5 228.8"/>
<path class="curve" stroke="#000000" d="M262.3 261.9 C263.1 261.9 265.7 261.8 267.2 261.9 C268.7 262.0 270.1 262.5 271.5 262.5 C272.9 262.5 274.3 262.0 275.9 261.9 C277.5 261.8 279.4 262.0 281.1 261.9 C282.8 261.8 284.6 261.4 286.3 261.1 C288.0 260.7 289.8 260.4 291.5 259.9 C293.2 259.3 295.4 258.4 296.8 257.6 C298.2 256.7 299.2 256.1 300.2 254.9 C301.2 253.8 302.0 252.3 302.9 250.6 C303.7 248.9 304.7 246.1 305.5 244.5 C306.3 243.0 306.8 241.8 307.6 241.0 C308.3 240.3 309.0 240.0 309.8 239.8 C310.6 239.7 311.4 239.8 312.4 240.2 C313.4 240.5 314.7 241.8 315.9 241.9 C317.1 242.0 318.2 241.0 319.4 240.7 C320.6 240.3 321.7 239.7 322.9 239.7 C324.1 239.6 325.4 240.2 326.4 240.5 C327.3 240.9 327.6 241.5 328.5 241.9 C329.4 242.3 330.9 242.8 332.0 242.8 C333.1 242.8 334.1 242.4 335.4 241.9 C336.7 241.4 338.4 240.5 339.8 239.7 C341.2 238.8 342.8 237.7 344.1 237.0 C345.4 236.4 346.4 236.1 347.6 235.8 C348.8 235.6 350.1 235.1 351.1 235.2 C352.1 235.4 352.8 235.8 353.7 236.7 C354.6 237.5 355.4 238.9 356.3 240.2 C357.2 241.4 358.0 242.9 358.9 243.9 C359.8 245.0 360.3 245.9 361.5 246.6 C362.7 247.3 364.4 247.7 365.9 248.3 C367.3 249.0 368.8 249.8 370.2 250.6 C371.6 251.4 373.2 252.4 374.6 253.2 C376.1 254.1 377.4 254.7 378.9 255.4 C380.3 256.2 382.0 257.2 383.3 257.6 C384.6 257.9 385.6 257.1 386.8 257.2 C388.0 257.4 388.9 258.2 390.2 258.8 C391.6 259.3 394.2 260.3 395.0 260.7"/>
<path class="curve" stroke="#cc475c" d="M264.6 294.2 C265.6 294.0 268.8 293.4 270.7 293.0 C272.6 292.5 274.2 292.2 275.9 291.8 C277.6 291.3 279.5 290.6 281.1 290.1 C282.7 289.5 284.1 288.6 285.4 288.2 C286.8 287.9 287.7 288.0 288.9 288.2 C290.1 288.3 291.2 289.1 292.4 289.0 C293.6 288.8 294.7 288.2 295.9 287.2 C297.1 286.3 298.2 284.8 299.4 283.5 C300.6 282.1 301.8 280.4 302.9 279.1 C303.9 277.7 304.7 276.6 305.5 275.6 C306.3 274.5 306.9 273.3 307.6 272.7 C308.2 272.0 308.6 271.5 309.3 271.6 C310.0 271.6 310.7 272.3 311.6 273.0 C312.4 273.6 313.2 274.5 314.2 275.2 C315.2 276.0 316.5 277.2 317.6 277.7 C318.7 278.1 319.8 278.4 320.8 278.2 C321.8 278.0 322.8 277.0 323.7 276.5 C324.6 275.9 325.5 275.1 326.3 274.8 C327.1 274.4 327.6 274.2 328.5 274.4 C329.4 274.5 330.7 275.1 332.0 275.6 C333.3 276.1 335.0 277.5 336.3 277.4 C337.6 277.2 338.6 275.9 339.8 274.8 C341.0 273.6 342.1 271.9 343.3 270.4 C344.5 268.8 345.7 266.8 346.8 265.7 C347.8 264.5 348.5 263.8 349.4 263.4 C350.3 263.0 351.1 263.0 352.0 263.4 C352.9 263.8 353.7 264.6 354.6 265.7 C355.5 266.7 356.3 268.0 357.2 269.5 C358.1 270.9 358.9 272.8 359.8 274.4 C360.7 276.0 361.5 277.7 362.4 279.1 C363.3 280.4 364.0 281.4 365.0 282.6 C366.0 283.7 367.3 285.1 368.5 286.1 C369.7 287.0 370.8 287.7 372.0 288.2 C373.2 288.6 374.4 288.5 375.5 289.0 C376.6 289.4 377.6 290.1 378.9 290.8 C380.2 291.4 381.9 292.4 383.3 293.0 C384.8 293.5 386.2 293.8 387.6 293.9 C389.1 293.9 390.6 293.3 392.0 293.4 C393.4 293.4 395.3 294.1 396.0 294.2"/>
<path class="curve" stroke="#2fe2e0" d="M264.6 328.2 C265.9 328.1 269.6 328.0 272.4 327.8 C275.1 327.5 278.5 327.3 281.1 326.9 C283.7 326.5 286.1 325.8 288.1 325.2 C290.1 324.5 291.6 323.9 293.3 323.1 C295.0 322.2 296.9 321.1 298.5 320.0 C300.1 318.9 301.6 317.8 302.9 316.5 C304.2 315.2 305.3 313.5 306.3 312.2 C307.3 310.9 308.0 310.0 308.9 308.7 C309.8 307.3 310.7 305.3 311.6 304.2 C312.4 303.2 313.2 302.6 314.2 302.2 C315.2 301.8 316.5 302.3 317.6 302.1 C318.8 301.8 319.9 301.1 321.1 300.5 C322.3 299.8 323.6 298.8 324.6 298.2 C325.6 297.6 326.6 297.3 327.2 297.0 C327.8 296.6 327.6 296.1 328.5 296.0 C329.4 295.8 331.5 295.8 332.8 296.0 C334.1 296.1 335.1 297.0 336.3 297.0 C337.5 296.9 338.8 295.7 339.8 295.6 C340.8 295.4 341.5 295.6 342.4 296.0 C343.3 296.3 344.0 297.0 345.0 297.7 C346.0 298.3 347.5 299.2 348.5 300.0 C349.5 300.7 350.2 301.0 351.1 302.2 C352.0 303.4 352.8 305.4 353.7 306.9 C354.6 308.4 355.4 309.9 356.3 311.2 C357.2 312.6 358.0 313.6 358.9 314.8 C359.8 315.9 360.5 316.9 361.5 317.9 C362.5 318.8 363.7 319.7 365.0 320.5 C366.3 321.2 367.8 321.9 369.4 322.6 C371.0 323.2 372.7 323.7 374.6 324.3 C376.5 324.9 378.5 325.6 380.7 326.1 C382.9 326.5 385.1 326.9 387.6 327.2 C390.1 327.6 394.2 328.0 395.5 328.2"/>
<path class="curve" stroke="#c0a02c" d="M264.6 357.0 C265.5 356.9 268.2 356.9 269.8 356.7 C271.4 356.4 272.7 356.0 274.1 355.5 C275.6 354.9 277.1 354.1 278.5 353.2 C279.9 352.2 281.5 351.1 282.8 350.1 C284.1 349.0 285.1 347.8 286.3 347.1 C287.5 346.3 288.6 345.7 289.8 345.4 C291.0 345.0 292.3 345.0 293.3 344.8 C294.3 344.6 295.0 344.6 295.9 344.1 C296.8 343.6 297.6 342.7 298.5 341.9 C299.4 341.0 300.2 340.2 301.1 339.2 C302.0 338.3 302.8 337.0 303.7 336.1 C304.6 335.2 305.4 334.4 306.3 333.7 C307.2 332.9 308.1 332.2 308.9 331.8 C309.7 331.3 310.3 331.0 311.0 331.1 C311.7 331.1 312.5 331.9 313.3 332.2 C314.1 332.6 315.0 333.2 315.9 333.2 C316.8 333.2 317.5 332.4 318.5 332.2 C319.5 332.1 320.8 332.1 322.0 332.2 C323.2 332.4 324.4 332.9 325.5 333.0 C326.6 333.0 327.4 332.7 328.5 332.8 C329.6 332.8 330.9 333.4 332.0 333.2 C333.1 332.9 334.1 331.9 335.4 331.4 C336.7 330.9 338.4 330.5 339.8 330.2 C341.2 329.8 342.8 329.6 344.1 329.4 C345.4 329.1 346.4 328.9 347.6 328.8 C348.8 328.6 350.1 328.3 351.1 328.8 C352.1 329.2 352.8 330.4 353.7 331.4 C354.6 332.4 355.4 333.5 356.3 334.9 C357.2 336.2 358.0 337.8 358.9 339.2 C359.8 340.7 360.6 342.2 361.5 343.6 C362.4 344.9 363.1 345.9 364.1 347.1 C365.2 348.2 366.4 349.3 367.6 350.2 C368.8 351.0 369.9 351.8 371.1 352.2 C372.3 352.8 373.6 353.2 374.6 353.2 C375.6 353.1 376.4 351.8 377.2 351.8 C378.0 351.8 378.6 352.2 379.3 353.2 C380.0 354.1 380.8 356.2 381.6 357.5 C382.3 358.8 383.1 360.1 383.8 360.7 C384.5 361.2 385.1 360.9 385.9 360.7 C386.7 360.4 387.6 360.2 388.5 359.2 C389.4 358.3 390.2 355.9 391.1 354.9 C392.0 353.8 392.9 352.9 393.7 352.8 C394.5 352.7 395.6 353.8 396.0 354.1"/>
<path class="curve" stroke="#3f9470" d="M264.6 393.6 C265.5 393.3 268.1 392.8 269.8 392.3 C271.5 391.8 273.3 391.2 275.0 390.6 C276.7 389.9 278.5 389.0 280.2 388.3 C281.9 387.6 283.8 387.0 285.4 386.6 C287.1 386.1 288.4 385.8 289.8 385.4 C291.2 385.0 293.0 384.5 294.1 384.2 C295.3 383.8 296.1 383.6 296.8 383.1 C297.5 382.5 297.7 380.8 298.1 380.7 C298.6 380.5 299.0 382.3 299.5 382.4 C300.0 382.4 300.5 381.9 301.1 381.0 C301.7 380.0 302.1 378.2 302.9 376.7 C303.6 375.1 304.6 373.2 305.5 371.5 C306.4 369.7 307.3 367.6 308.1 366.2 C308.9 364.8 309.6 363.7 310.3 363.1 C311.0 362.4 311.5 362.1 312.1 362.2 C312.8 362.4 313.4 363.1 314.2 364.0 C315.0 364.8 315.9 366.0 316.8 367.1 C317.7 368.1 318.6 369.2 319.4 370.2 C320.2 371.2 320.8 372.8 321.5 373.2 C322.2 373.5 322.9 372.2 323.7 372.2 C324.5 372.2 325.6 372.9 326.4 373.2 C327.2 373.5 327.6 373.5 328.5 374.1 C329.4 374.6 331.0 376.1 332.0 376.7 C333.0 377.2 333.7 376.7 334.6 377.2 C335.5 377.6 336.3 379.1 337.2 379.2 C338.1 379.4 338.8 378.9 339.8 378.4 C340.8 377.8 342.1 377.2 343.3 376.2 C344.5 375.1 345.6 373.8 346.8 372.2 C347.9 370.7 349.0 368.6 350.2 367.1 C351.4 365.5 352.7 363.7 353.7 362.8 C354.7 361.8 355.4 361.4 356.3 361.4 C357.2 361.4 358.0 361.9 358.9 362.8 C359.8 363.6 360.5 364.8 361.5 366.2 C362.5 367.7 363.8 369.8 365.0 371.5 C366.2 373.1 367.5 375.1 368.5 376.2 C369.5 377.4 370.2 377.8 371.1 378.4 C372.0 378.9 372.8 379.5 373.7 379.6 C374.6 379.7 375.4 378.4 376.3 378.8 C377.2 379.1 378.0 380.8 378.9 381.9 C379.8 383.0 380.5 384.2 381.6 385.4 C382.6 386.5 383.8 387.8 385.0 388.9 C386.2 389.9 387.5 391.1 388.5 391.5 C389.5 391.8 390.2 390.8 391.1 391.1 C392.0 391.3 392.9 392.5 393.7 393.2 C394.5 393.8 395.6 394.6 396.0 394.9"/>
<path class="curve" stroke="#cf1fcf" d="M264.2 427.1 C265.6 427.0 269.8 427.0 272.3 426.5 C274.9 426.0 277.3 425.1 279.5 424.2 C281.7 423.2 283.6 421.9 285.3 420.8 C287.0 419.6 287.9 418.2 289.6 417.2 C291.3 416.3 293.7 415.7 295.4 415.0 C297.1 414.2 298.5 413.9 299.7 413.0 C300.9 412.0 301.5 410.7 302.6 409.2 C303.7 407.6 305.1 405.0 306.3 403.5 C307.5 401.9 308.7 400.5 309.8 399.7 C310.9 398.8 311.2 398.6 312.7 398.6 C314.1 398.5 316.3 398.9 318.5 399.1 C320.7 399.3 323.3 399.6 325.7 400.0 C328.1 400.3 330.5 401.1 332.9 401.2 C335.3 401.2 337.9 400.9 340.1 400.6 C342.3 400.2 344.2 399.8 345.9 399.1 C347.6 398.4 348.9 397.1 350.2 396.2 C351.5 395.4 352.7 394.3 353.9 394.2 C355.1 394.1 356.3 394.6 357.4 395.7 C358.5 396.7 359.2 398.5 360.3 400.6 C361.4 402.6 362.8 405.7 364.0 407.8 C365.2 409.8 366.2 411.5 367.5 412.7 C368.8 413.9 370.4 414.1 371.8 415.0 C373.2 415.8 374.7 416.7 376.1 417.9 C377.6 419.1 379.1 421.0 380.5 422.2 C381.9 423.4 383.1 424.3 384.8 425.1 C386.5 425.8 388.8 426.1 390.6 426.5 C392.4 426.9 394.9 427.2 395.8 427.4"/>
<rect x="404.3" y="170.3" width="113" height="109.9" fill="#fff" stroke="#959595" stroke-width="0.9"/>
<path d="M404.8 179.00 H434.7" stroke="#3a6fbc" stroke-width="2.1" fill="none"/>
<text transform="translate(437.5,183.40) scale(1.027,1)" class="sans" font-size="12.3">CARS</text>
<path d="M404.8 194.38 H434.7" stroke="#000000" stroke-width="2.1" fill="none"/>
<text transform="translate(437.5,198.78) scale(1.027,1)" class="sans" font-size="12.3">Raman as GT</text>
<path d="M404.8 209.76 H434.7" stroke="#cc475c" stroke-width="2.1" fill="none"/>
<text transform="translate(437.5,214.16) scale(1.027,1)" class="sans" font-size="12.3">GANRB</text>
<path d="M404.8 225.14 H434.7" stroke="#2fe2e0" stroke-width="2.1" fill="none"/>
<text transform="translate(437.5,229.54) scale(1.027,1)" class="sans" font-size="12.3">SpecNet</text>
<path d="M404.8 240.52 H434.7" stroke="#c0a02c" stroke-width="2.1" fill="none"/>
<text transform="translate(437.5,244.92) scale(1.027,1)" class="sans" font-size="12.3">LSTM</text>
<path d="M404.8 255.90 H434.7" stroke="#3f9470" stroke-width="2.1" fill="none"/>
<text transform="translate(437.5,260.30) scale(1.027,1)" class="sans" font-size="12.3">VECTOR</text>
<path d="M404.8 271.28 H434.7" stroke="#cf1fcf" stroke-width="2.1" fill="none"/>
<text transform="translate(437.5,275.68) scale(1.027,1)" class="sans" font-size="12.3">Bi-LSTM</text>
</svg></body></html>
